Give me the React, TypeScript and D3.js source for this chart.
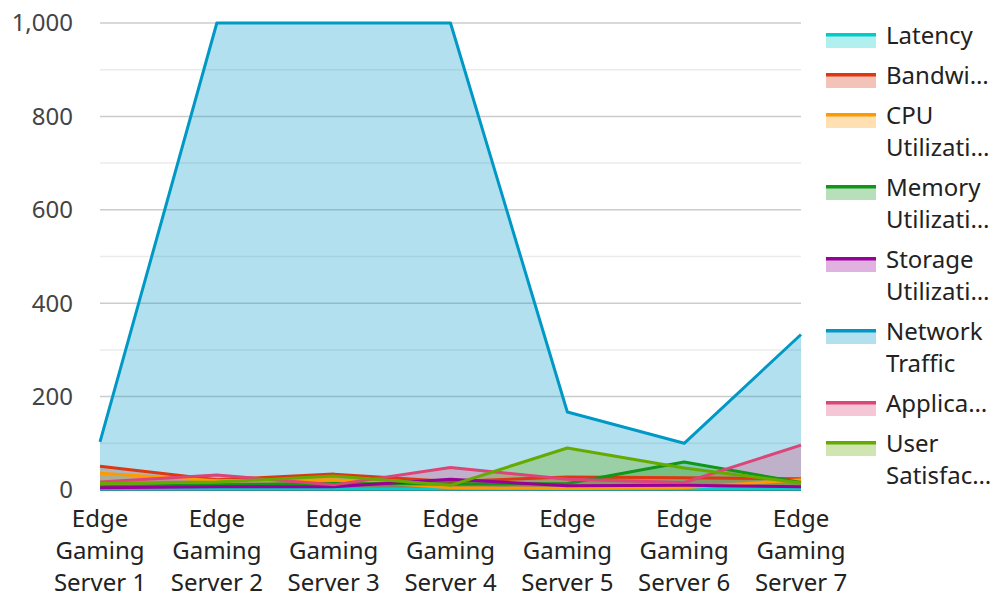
import React from "react";
import * as d3 from "d3";

const categories = ["Edge Gaming Server 1", "Edge Gaming Server 2", "Edge Gaming Server 3", "Edge Gaming Server 4", "Edge Gaming Server 5", "Edge Gaming Server 6", "Edge Gaming Server 7"];
const seriesNames = ["Latency", "Bandwi…", "CPU Utilizati…", "Memory Utilizati…", "Storage Utilizati…", "Network Traffic", "Applica…", "User Satisfac…"];
const latency = [2, 2, 2, 2, 2, 2, 2];
const bandwidth = [51, 22, 34, 18, 28, 26, 24];
const cpu = [36, 20, 22, 5, 3, 5, 22];
const memory = [7, 11, 14, 13, 14, 60, 16];
const storage = [5, 7, 7, 23, 9, 10, 7];
const network = [103, 1000, 1000, 1000, 167, 100, 333];
const application = [17, 32, 11, 48, 23, 16, 96];
const userSatisfaction = [14, 17, 30, 10, 90, 47, 15];
const colors = ["#00cccc", "#dc3912", "#ff9900", "#109618", "#990099", "#0099c6", "#dd4477", "#66aa00"];
const yTicks = [0, 200, 400, 600, 800, 1000];
const yMinor = [100, 300, 500, 700, 900];

const allSeries = [latency, bandwidth, cpu, memory, storage, network, application, userSatisfaction];

export default function App() {
  const W = 996, H = 594;
  const x = d3.scalePoint<string>().domain(categories).range([100, 801]);
  const y = d3.scaleLinear().domain([0, 1000]).range([490, 23]);
  const area = d3.area<number>().x((_, i) => x(categories[i])!).y0(y(0)).y1((d) => y(d));
  const line = d3.line<number>().x((_, i) => x(categories[i])!).y((d) => y(d));
  const font = "'Noto Sans', 'Open Sans', sans-serif";
  const fs = 24;
  const legendLines = seriesNames.map((n) => {
    const parts = n.split(" ");
    return parts.length > 1 ? [parts[0], parts.slice(1).join(" ")] : [n];
  });
  let ly = 36;
  const legendPos: number[] = [];
  legendLines.forEach((l) => {
    legendPos.push(ly);
    ly += l.length * 32 + 8;
  });
  return (
    <svg width={W} height={H} style={{ position: "absolute", left: 0, top: 0 }} fontFamily={font}>
      <rect width={W} height={H} fill="#fff" />
      {yMinor.map((t) => (
        <line key={"m" + t} x1={100} x2={801} y1={y(t)} y2={y(t)} stroke="#ebebeb" strokeWidth={1.5} />
      ))}
      {yTicks.map((t) => (
        <line key={"g" + t} x1={100} x2={801} y1={y(t)} y2={y(t)} stroke="#cccccc" strokeWidth={1.5} />
      ))}
      <line x1={100} x2={801} y1={y(0)} y2={y(0)} stroke="#333" strokeWidth={1.5} />
      {allSeries.map((s, i) => (
        <path key={"a" + i} d={area(s)!} fill={colors[i]} fillOpacity={0.3} />
      ))}
      {allSeries.map((s, i) => (
        <path key={"l" + i} d={line(s)!} fill="none" stroke={colors[i]} strokeWidth={3} strokeLinejoin="round" />
      ))}
      {yTicks.map((t) => (
        <text key={"t" + t} x={73} y={y(t)} dy="0.35em" textAnchor="end" fontSize={fs} fill="#444">
          {d3.format(",")(t)}
        </text>
      ))}
      {categories.map((c) => {
        const parts = ["Edge", "Gaming", c.replace("Edge Gaming ", "")];
        return (
          <text key={c} x={x(c)} textAnchor="middle" fontSize={fs} fill="#222">
            {parts.map((p, j) => (
              <tspan key={j} x={x(c)} y={519 + j * 32} dy="0.35em">{p}</tspan>
            ))}
          </text>
        );
      })}
      {legendLines.map((l, i) => (
        <g key={"lg" + i}>
          <rect x={826} y={legendPos[i]} width={50} height={12} fill={colors[i]} fillOpacity={0.3} />
          <rect x={826} y={legendPos[i] - 3} width={50} height={3.5} fill={colors[i]} />
          <text fontSize={fs} fill="#222">
            {l.map((p, j) => (
              <tspan key={j} x={886} y={legendPos[i] + j * 32} dy="0.35em">{p}</tspan>
            ))}
          </text>
        </g>
      ))}
    </svg>
  );
}
